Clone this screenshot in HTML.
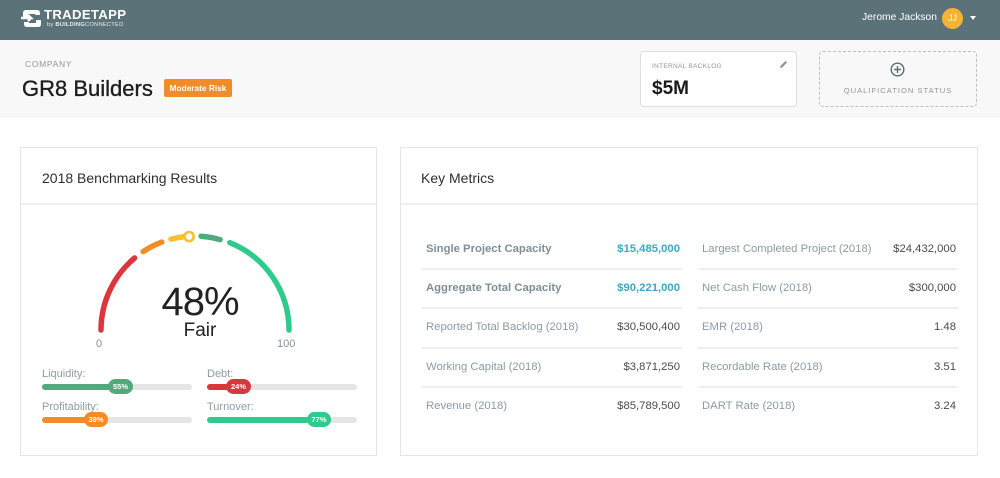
<!DOCTYPE html>
<html><head><meta charset="utf-8"><style>
*{margin:0;padding:0;box-sizing:border-box}
body{width:1000px;height:478px;background:#fff;font-family:"Liberation Sans",Arial,sans-serif;position:relative;overflow:hidden}
.a{position:absolute;white-space:nowrap}
.hdr{position:absolute;left:0;top:0;width:1000px;height:40px;background:#5b7279}
.top{position:absolute;left:0;top:40px;width:1000px;height:78px;background:#f8f8f8}
.card{position:absolute;background:#fff;border:1px solid #e6e6e6}
.lbl{font-size:11px;color:#8d9ca4}
.ml{font-size:11.3px;color:#8a9ba4;line-height:14px}
.mv{font-size:11.3px;color:#4a4a4a;line-height:14px;text-align:right}
.b{font-weight:bold;color:#7e8f98}
.bv{color:#3fa6c6;font-weight:bold}
.div{position:absolute;height:2px;background:#efefef}
.track{position:absolute;height:6px;border-radius:3px;background:#e5e5e5}
.fill{position:absolute;height:6px;border-radius:3px}
.pill{position:absolute;height:15px;border-radius:8px;color:#fff;font-size:7.5px;font-weight:bold;text-align:center;line-height:15px}
</style></head><body>
<div class="hdr"></div>
<svg class="a" style="left:21px;top:9px" width="22" height="19" viewBox="0 0 22 19">
<path d="M2 8 V4 Q2 1 5 1 H16 Q19 1 19 4 V6 H14 V5 H7 V8 Z" fill="#fff"/>
<path d="M20 11 V15 Q20 18 17 18 H6 Q3 18 3 15 V13 H8 V14 H15 V11 Z" fill="#fff"/>
<path d="M0 9 H10 L7 6 M10 9 L7 12" stroke="#fff" stroke-width="2.4" fill="none"/>
</svg>
<div class="a" style="left:44px;top:7px;font-size:13.2px;font-weight:bold;color:#fff;letter-spacing:0.3px">TRADETAPP</div>
<div class="a" style="left:47px;top:22px;font-size:5.8px;color:#e6ecee;letter-spacing:0.2px">by <b>BUILDING</b>CONNECTED</div>
<div class="a" style="left:800px;top:12px;width:137px;text-align:right;font-size:10.3px;color:#fff">Jerome Jackson</div>
<div class="a" style="left:942px;top:8px;width:21px;height:21px;border-radius:50%;background:#f6b234;color:#fff;font-size:9px;text-align:center;line-height:21px">JJ</div>
<div class="a" style="left:970px;top:16px;width:0;height:0;border-left:3.5px solid transparent;border-right:3.5px solid transparent;border-top:4px solid #fff"></div>

<div class="top"></div>
<div class="a" style="left:25px;top:59px;font-size:8.5px;color:#8e979b;letter-spacing:0.7px">COMPANY</div>
<div class="a" style="left:22px;top:76px;font-size:22px;color:#1e1e1e;-webkit-text-stroke:0.35px #1e1e1e">GR8 Builders</div>
<div class="a" style="left:164px;top:79px;width:68px;height:18px;background:#f28c28;border-radius:2px;color:#fff;font-size:8.3px;font-weight:bold;text-align:center;line-height:18px">Moderate Risk</div>

<div class="a" style="left:640px;top:51px;width:157px;height:56px;background:#fff;border:1px solid #dedede;border-radius:4px"></div>
<div class="a" style="left:652px;top:63px;font-size:6.5px;color:#8e979b;letter-spacing:0.3px">INTERNAL BACKLOG</div>
<div class="a" style="left:652px;top:78px;font-size:19px;font-weight:bold;color:#1a1a1a">$5M</div>
<svg class="a" style="left:779px;top:60px" width="9" height="9" viewBox="0 0 9 9"><path d="M1 8 L1.5 6 L6.5 1 L8 2.5 L3 7.5 Z" fill="#8a8f92"/></svg>

<div class="a" style="left:819px;top:51px;width:158px;height:56px;border:1.2px dashed #b9bfc2;border-radius:4px"></div>
<svg class="a" style="left:890px;top:62px" width="15" height="15" viewBox="0 0 15 15"><circle cx="7.5" cy="7.5" r="6.3" fill="none" stroke="#5b6c72" stroke-width="1.4"/><path d="M7.5 4 V11 M4 7.5 H11" stroke="#5b6c72" stroke-width="1.4"/></svg>
<div class="a" style="left:819px;top:86px;width:158px;text-align:center;font-size:7.6px;color:#8e979b;letter-spacing:1px">QUALIFICATION STATUS</div>

<!-- left card -->
<div class="card" style="left:20px;top:147px;width:357px;height:309px"></div>
<div class="div" style="left:21px;top:203px;width:355px"></div>
<div class="a" style="left:42px;top:170px;font-size:14px;color:#2a2f33">2018 Benchmarking Results</div>

<svg class="a" style="left:0;top:0" width="400" height="478">
<g fill="none" stroke-width="5.5" stroke-linecap="round">
<path d="M101 330 A94 94 0 0 1 134.6 258" stroke="#d9363e"/>
<path d="M143.1 251.6 A94 94 0 0 1 161.8 242.1" stroke="#f28c28"/>
<path d="M171 239.1 A94 94 0 0 1 186.8 236.4" stroke="#f5c12e"/>
<path d="M201.1 236.2 A94 94 0 0 1 220.1 239.6" stroke="#4fab7c"/>
<path d="M229.8 242.7 A94 94 0 0 1 289 330" stroke="#2ecb8c"/>
</g>
<circle cx="189.1" cy="236.6" r="4.6" fill="#fff" stroke="#f5c12e" stroke-width="2.6"/>
</svg>
<div class="a" style="left:120px;top:280px;width:160px;text-align:center;font-size:40px;letter-spacing:-1px;color:#222">48%</div>
<div class="a" style="left:120px;top:320px;width:160px;text-align:center;font-size:19px;color:#222">Fair</div>
<div class="a" style="left:96px;top:338px;font-size:11px;color:#8a8f92">0</div>
<div class="a" style="left:277px;top:338px;font-size:11px;color:#8a8f92">100</div>

<div class="a lbl" style="left:42px;top:368px">Liquidity:</div>
<div class="track" style="left:42px;top:384px;width:150px"></div>
<div class="fill" style="left:42px;top:384px;width:80px;background:#4fab7c"></div>
<div class="pill" style="left:108px;top:379px;width:25px;background:#4fab7c">55%</div>

<div class="a lbl" style="left:207px;top:368px">Debt:</div>
<div class="track" style="left:207px;top:384px;width:150px"></div>
<div class="fill" style="left:207px;top:384px;width:30px;background:#d9363e"></div>
<div class="pill" style="left:226px;top:379px;width:25px;background:#d9363e">24%</div>

<div class="a lbl" style="left:42px;top:401px">Profitability:</div>
<div class="track" style="left:42px;top:417px;width:150px"></div>
<div class="fill" style="left:42px;top:417px;width:55px;background:#f28c28"></div>
<div class="pill" style="left:84px;top:412px;width:24px;background:#f28c28">39%</div>

<div class="a lbl" style="left:207px;top:401px">Turnover:</div>
<div class="track" style="left:207px;top:417px;width:150px"></div>
<div class="fill" style="left:207px;top:417px;width:112px;background:#2ecb8c"></div>
<div class="pill" style="left:307px;top:412px;width:24px;background:#2ecb8c">77%</div>

<!-- right card -->
<div class="card" style="left:400px;top:147px;width:578px;height:309px"></div>
<div class="div" style="left:401px;top:203px;width:576px"></div>
<div class="a" style="left:421px;top:170px;font-size:14px;color:#2a2f33">Key Metrics</div>

<div class="a ml b" style="left:426px;top:242px">Single Project Capacity</div>
<div class="a mv bv" style="left:560px;top:242px;width:120px">$15,485,000</div>
<div class="div" style="left:421px;top:268px;width:261px"></div>
<div class="a ml b" style="left:426px;top:281px">Aggregate Total Capacity</div>
<div class="a mv bv" style="left:560px;top:281px;width:120px">$90,221,000</div>
<div class="div" style="left:421px;top:307px;width:261px"></div>
<div class="a ml" style="left:426px;top:320px">Reported Total Backlog (2018)</div>
<div class="a mv" style="left:560px;top:320px;width:120px">$30,500,400</div>
<div class="div" style="left:421px;top:347px;width:261px"></div>
<div class="a ml" style="left:426px;top:360px">Working Capital (2018)</div>
<div class="a mv" style="left:560px;top:360px;width:120px">$3,871,250</div>
<div class="div" style="left:421px;top:386px;width:261px"></div>
<div class="a ml" style="left:426px;top:399px">Revenue (2018)</div>
<div class="a mv" style="left:560px;top:399px;width:120px">$85,789,500</div>

<div class="a ml" style="left:702px;top:242px">Largest Completed Project (2018)</div>
<div class="a mv" style="left:836px;top:242px;width:120px">$24,432,000</div>
<div class="div" style="left:698px;top:268px;width:260px"></div>
<div class="a ml" style="left:702px;top:281px">Net Cash Flow (2018)</div>
<div class="a mv" style="left:836px;top:281px;width:120px">$300,000</div>
<div class="div" style="left:698px;top:307px;width:260px"></div>
<div class="a ml" style="left:702px;top:320px">EMR (2018)</div>
<div class="a mv" style="left:836px;top:320px;width:120px">1.48</div>
<div class="div" style="left:698px;top:347px;width:260px"></div>
<div class="a ml" style="left:702px;top:360px">Recordable Rate (2018)</div>
<div class="a mv" style="left:836px;top:360px;width:120px">3.51</div>
<div class="div" style="left:698px;top:386px;width:260px"></div>
<div class="a ml" style="left:702px;top:399px">DART Rate (2018)</div>
<div class="a mv" style="left:836px;top:399px;width:120px">3.24</div>
</body></html>
